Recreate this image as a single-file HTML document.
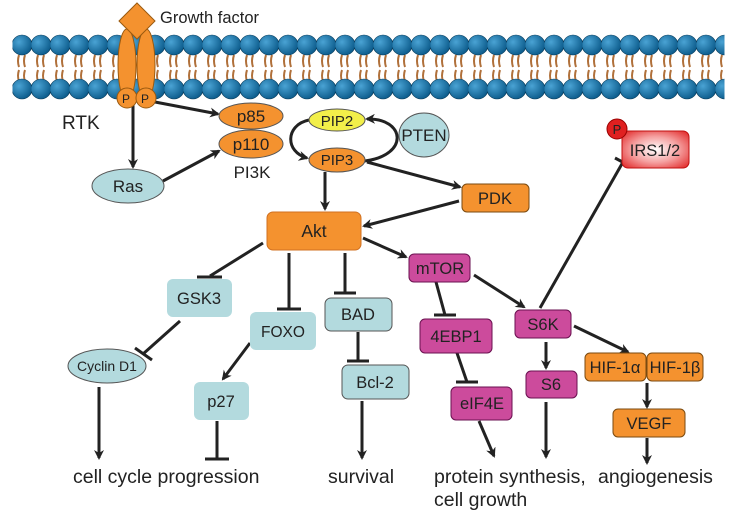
<!DOCTYPE html>
<html><head><meta charset="utf-8"><style>
html,body{margin:0;padding:0;background:#fff;}
svg{display:block;font-family:"Liberation Sans",Arial,sans-serif;}
</style></head><body>
<svg width="732" height="520" viewBox="0 0 732 520" xmlns="http://www.w3.org/2000/svg">
<defs>
<radialGradient id="bl" cx="0.35" cy="0.35" r="0.7"><stop offset="0" stop-color="#4aa3d4"/><stop offset="1" stop-color="#0b5a8a"/></radialGradient>
<radialGradient id="rd" cx="0.5" cy="0.5" r="0.7"><stop offset="0" stop-color="#fff"/><stop offset="0.5" stop-color="#f5a0a0"/><stop offset="1" stop-color="#e02020"/></radialGradient>
<marker id="a" markerWidth="10" markerHeight="10" refX="8" refY="5" orient="auto" markerUnits="userSpaceOnUse"><path d="M0,0 L10,5 L0,10 L3,5 z" fill="#222"/></marker>
<pattern id="mp" x="12.5" y="0" width="19" height="110" patternUnits="userSpaceOnUse">
<path d="M6.5,55 q-2,6 0,12 M12.5,55 q-2,6 0,12 M6.5,70 q-2,6 0,11 M12.5,70 q-2,6 0,11" stroke="#b0703a" stroke-width="2" fill="none"/>
<circle cx="9.5" cy="45" r="10" fill="url(#bl)" stroke="#063a5a" stroke-width="0.6"/>
<circle cx="9.5" cy="89" r="10" fill="url(#bl)" stroke="#063a5a" stroke-width="0.6"/>
</pattern>
</defs>
<rect x="12.5" y="34" width="712" height="66" fill="url(#mp)"/>
<g stroke="#222" stroke-width="3" fill="none" stroke-linecap="butt">
<line x1="155" y1="102" x2="218" y2="114" marker-end="url(#a)"/>
<line x1="133" y1="105" x2="133" y2="167" marker-end="url(#a)"/>
<line x1="163" y1="181" x2="219" y2="151" marker-end="url(#a)"/>
<path d="M309,120 C285,125 285,152 307,158" marker-end="url(#a)"/>
<path d="M365,161 C410,155 405,118 367,119" marker-end="url(#a)"/>
<line x1="325" y1="172" x2="325" y2="209" marker-end="url(#a)"/>
<line x1="367" y1="162" x2="460" y2="187" marker-end="url(#a)"/>
<line x1="459" y1="201" x2="364" y2="226" marker-end="url(#a)"/>
<line x1="363" y1="238" x2="406" y2="257" marker-end="url(#a)"/>
<line x1="474" y1="275" x2="524" y2="307" marker-end="url(#a)"/>
<line x1="540" y1="308" x2="623" y2="162"/>
<line x1="615" y1="158" x2="630" y2="166"/>
<line x1="263" y1="243" x2="210" y2="276"/>
<line x1="197" y1="277" x2="222" y2="277"/>
<line x1="289" y1="253" x2="289" y2="309"/>
<line x1="277" y1="309" x2="301" y2="309"/>
<line x1="345" y1="253" x2="345" y2="293"/>
<line x1="334" y1="293" x2="356" y2="293"/>
<line x1="358" y1="332" x2="358" y2="361"/>
<line x1="347" y1="361" x2="369" y2="361"/>
<line x1="180" y1="321" x2="143" y2="354"/>
<line x1="135" y1="348" x2="152" y2="360"/>
<line x1="250" y1="343" x2="223" y2="379" marker-end="url(#a)"/>
<line x1="217" y1="421" x2="217" y2="459"/>
<line x1="205" y1="459" x2="229" y2="459"/>
<line x1="99" y1="387" x2="99" y2="458" marker-end="url(#a)"/>
<line x1="362" y1="401" x2="362" y2="458" marker-end="url(#a)"/>
<line x1="436" y1="282" x2="445" y2="315"/>
<line x1="434" y1="315" x2="456" y2="315"/>
<line x1="457" y1="353" x2="467" y2="382"/>
<line x1="456" y1="382" x2="478" y2="382"/>
<line x1="479" y1="421" x2="494" y2="456" marker-end="url(#a)"/>
<line x1="546" y1="342" x2="546" y2="368" marker-end="url(#a)"/>
<line x1="546" y1="402" x2="546" y2="457" marker-end="url(#a)"/>
<line x1="574" y1="326" x2="628" y2="352" marker-end="url(#a)"/>
<line x1="647" y1="383" x2="647" y2="407" marker-end="url(#a)"/>
<line x1="647" y1="438" x2="647" y2="463" marker-end="url(#a)"/>
</g>
<g fill="#f4922f" stroke="#9a5a10" stroke-width="1">
<ellipse cx="127" cy="65" rx="9" ry="36"/>
<ellipse cx="146" cy="65" rx="9" ry="36"/>
<polygon points="137,3 155,21 137,39 119,21"/>
<circle cx="127" cy="98" r="10"/>
<circle cx="146" cy="98" r="10"/>
</g>
<text x="122" y="103" font-size="12" fill="#222">P</text>
<text x="141" y="103" font-size="12" fill="#222">P</text>
<text x="160" y="23" font-size="16.5" fill="#222">Growth factor</text>
<text x="62" y="129" font-size="19" fill="#222">RTK</text>
<g stroke="#555" stroke-width="1">
<ellipse cx="251" cy="116" rx="32" ry="13" fill="#f4922f"/>
<ellipse cx="251" cy="144" rx="32" ry="14" fill="#f4922f"/>
<ellipse cx="337" cy="120" rx="28" ry="11" fill="#f2ef4a"/>
<ellipse cx="337" cy="160" rx="28" ry="12" fill="#f4922f"/>
<ellipse cx="424" cy="135" rx="25" ry="22" fill="#b3dade"/>
<ellipse cx="128" cy="186" rx="36" ry="17" fill="#b3dade"/>
<ellipse cx="107" cy="366" rx="39" ry="17" fill="#b3dade"/>
</g>
<g font-size="17" fill="#222" text-anchor="middle">
<text x="251" y="122">p85</text>
<text x="251" y="150">p110</text>
<text x="252" y="178">PI3K</text>
<text x="337" y="126" font-size="15">PIP2</text>
<text x="337" y="165" font-size="15">PIP3</text>
<text x="424" y="141">PTEN</text>
<text x="128" y="192">Ras</text>
<text x="107" y="371" font-size="14">Cyclin D1</text>
</g>
<g stroke="#7a4a10" stroke-width="1">
<rect x="462" y="184" width="67" height="28" rx="5" fill="#f4922f"/>
<rect x="267" y="212" width="94" height="38" rx="6" fill="#f4922f" stroke="#d07020"/>
<rect x="585" y="353" width="61" height="28" rx="5" fill="#f4922f"/>
<rect x="647" y="353" width="56" height="28" rx="5" fill="#f4922f"/>
<rect x="613" y="409" width="72" height="28" rx="5" fill="#f4922f"/>
</g>
<g stroke="#6a1050" stroke-width="1" fill="#cc4b9c">
<rect x="409" y="254" width="61" height="28" rx="5"/>
<rect x="420" y="319" width="72" height="34" rx="5"/>
<rect x="451" y="387" width="61" height="33" rx="5"/>
<rect x="515" y="310" width="56" height="28" rx="5"/>
<rect x="526" y="371" width="51" height="27" rx="5"/>
</g>
<g fill="#b3dade">
<rect x="167" y="279" width="65" height="38" rx="6"/>
<rect x="250" y="312" width="66" height="38" rx="6"/>
<rect x="325" y="298" width="67" height="33" rx="6" stroke="#555"/>
<rect x="342" y="365" width="67" height="34" rx="6" stroke="#555"/>
<rect x="194" y="382" width="55" height="38" rx="6"/>
</g>
<rect x="622" y="131" width="67" height="37" rx="6" fill="url(#rd)" stroke="#c01010"/>
<circle cx="617" cy="129" r="10" fill="#e02020" stroke="#900"/>
<g font-size="16.5" fill="#222" text-anchor="middle">
<text x="495" y="204">PDK</text>
<text x="314" y="237" font-size="17.5">Akt</text>
<text x="655" y="156">IRS1/2</text>
<text x="617" y="134" font-size="13">P</text>
<text x="440" y="274">mTOR</text>
<text x="456" y="342">4EBP1</text>
<text x="482" y="409">eIF4E</text>
<text x="543" y="330">S6K</text>
<text x="551" y="390">S6</text>
<text x="615" y="373">HIF-1α</text>
<text x="675" y="373">HIF-1β</text>
<text x="649" y="429">VEGF</text>
<text x="199" y="304">GSK3</text>
<text x="283" y="337" font-size="15.5">FOXO</text>
<text x="358" y="320">BAD</text>
<text x="375" y="388">Bcl-2</text>
<text x="221" y="407">p27</text>
</g>
<g font-size="19.5" fill="#222">
<text x="73" y="483">cell cycle progression</text>
<text x="328" y="483">survival</text>
<text x="434" y="483">protein synthesis,</text>
<text x="434" y="506">cell growth</text>
<text x="598" y="483">angiogenesis</text>
</g>
</svg>
</body></html>
